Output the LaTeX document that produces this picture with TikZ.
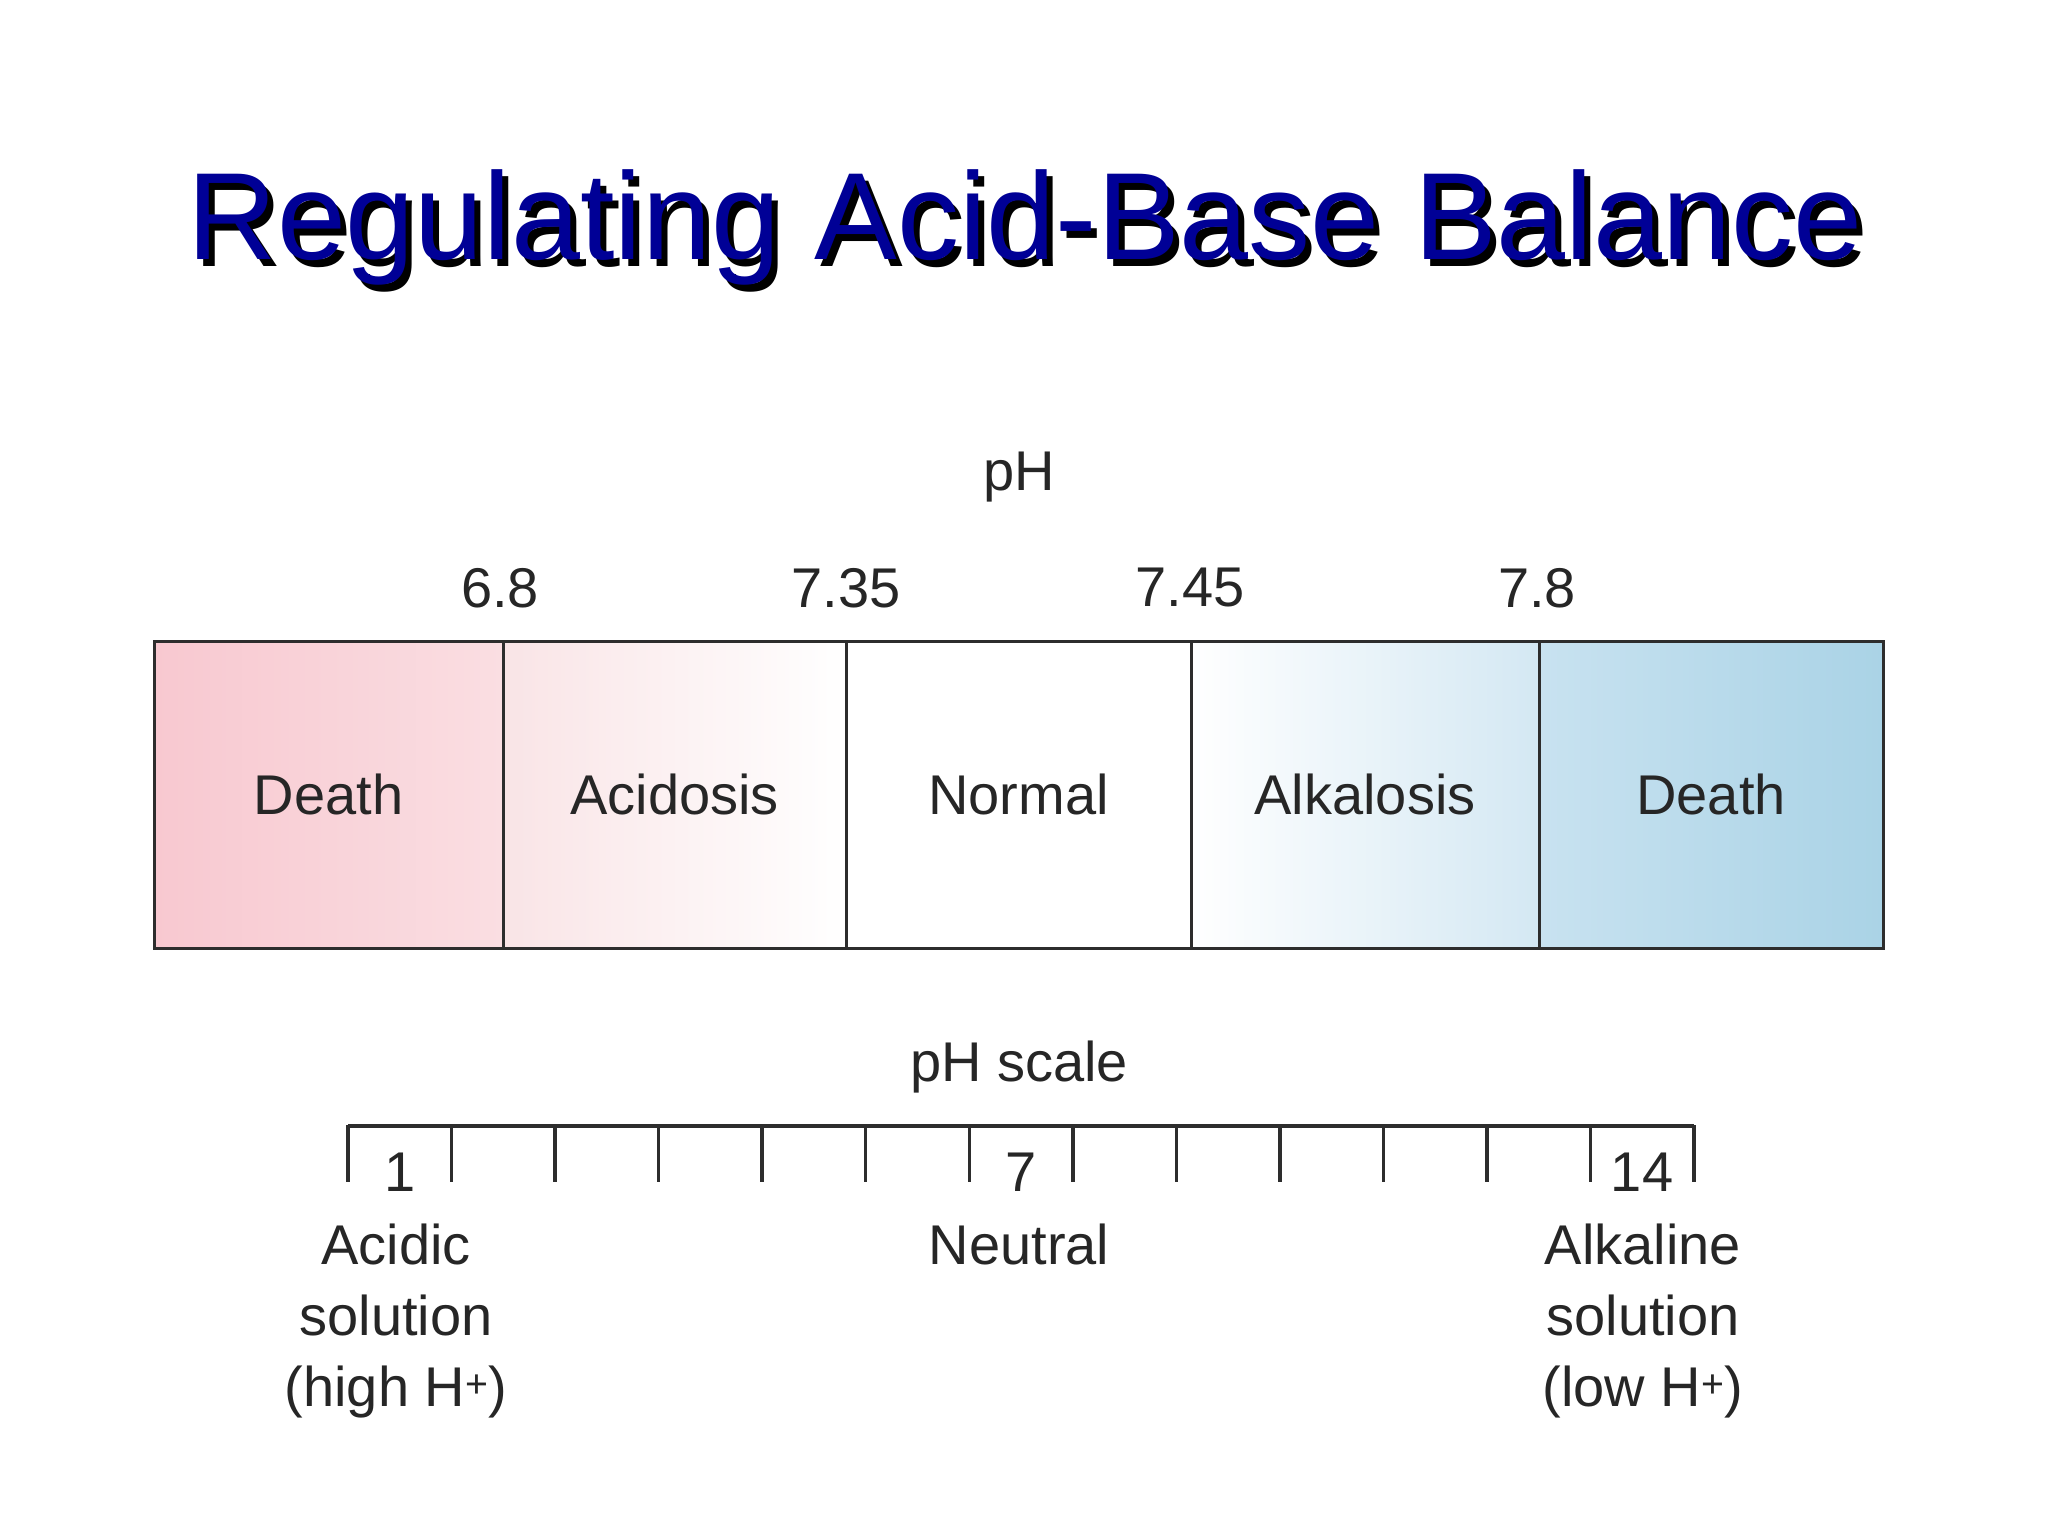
\documentclass[tikz,border=0pt]{standalone}
\usepackage{fontspec}
\setmainfont{Liberation Sans}
\usetikzlibrary{calc}
\definecolor{titleblue}{RGB}{0,0,150}
\definecolor{pinkA}{RGB}{248,200,208}
\definecolor{pinkB}{RGB}{250,222,226}
\definecolor{pinkC}{RGB}{249,228,230}
\definecolor{blueA}{RGB}{212,232,243}
\definecolor{blueB}{RGB}{200,226,240}
\definecolor{blueC}{RGB}{170,211,230}
\definecolor{edge}{RGB}{45,45,45}
\tikzset{
  seg/.style={draw=edge, line width=3pt, minimum width=346pt, minimum height=307pt, inner sep=0pt,
    font=\fontsize{56}{67}\selectfont, text=black!85},
  lbl/.style={font=\fontsize{56}{71}\selectfont, text=black!85, inner sep=0pt, align=center},
  tick/.style={draw=edge, line width=3.5pt},
  titletext/.style={font=\fontsize{124}{140}\selectfont, inner sep=0pt}
}
\begin{document}
\begin{tikzpicture}[x=1pt,y=-1pt]
\useasboundingbox (0,0) rectangle (2048,1536);
\fill[white] (0,0) rectangle (2048,1536);
% title with shadow
\node[titletext, text=black] (titleshadow) at (1031,234) {Regulating Acid-Base Balance};
\node[titletext, text=titleblue] (title) at (1025,227) {Regulating Acid-Base Balance};
% pH heading and values
\node[lbl] (ph) at (1019,477) {pH};
\node[lbl] (v68) at (500,588) {6.8};
\node[lbl] (v735) at (846,588) {7.35};
\node[lbl] (v745) at (1190,588) {7.45};
\node[lbl] (v78) at (1537,588) {7.8};
% bar segments
\node[seg, left color=pinkA, right color=pinkB, minimum width=349pt] (s1) at (328.5,794.5) {Death};
\node[seg, left color=pinkC, right color=white, minimum width=343pt] (s2) at (674.5,794.5) {Acidosis};
\node[seg, fill=white, minimum width=345pt] (s3) at (1018.5,794.5) {Normal};
\node[seg, left color=white, right color=blueA, minimum width=348pt] (s4) at (1365,794.5) {Alkalosis};
\node[seg, left color=blueB, right color=blueC, minimum width=344pt] (s5) at (1711,794.5) {Death};
% pH scale
\node[lbl] (phscale) at (1019,1067) {pH scale};
\coordinate (sl) at (348,1126);
\coordinate (sr) at (1694,1126);
\draw[draw=edge, line width=4.5pt] (sl) -- (sr);
\foreach \i in {0,...,13} {
  \draw[tick] ($(sl)+(\i*103.54,-1)$) -- ++(0,57);
}
\node[lbl] (n1) at (400,1172) {1};
\node[lbl] (n7) at (1021,1172) {7};
\node[lbl] (n14) at (1642,1172) {14};
\node[lbl, anchor=north] (acid) at (396,1224) {Acidic\\solution\\(high H\textsuperscript{+})};
\node[lbl, anchor=north] (neutral) at (1019,1224) {Neutral};
\node[lbl, anchor=north] (alk) at (1643,1224) {Alkaline\\solution\\(low H\textsuperscript{+})};
\end{tikzpicture}
\end{document}
